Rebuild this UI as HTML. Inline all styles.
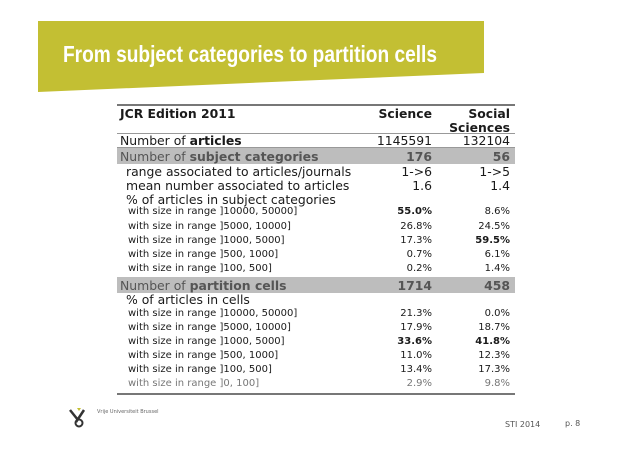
<!DOCTYPE html>
<html><head><meta charset="utf-8"><style>
body{margin:0;width:638px;height:451px;background:#fff;position:relative;overflow:hidden;font-family:"DejaVu Sans","Liberation Sans",sans-serif;}
.r{position:absolute;left:0;width:638px;color:#1a1a1a;white-space:nowrap;}
.r span{position:absolute;}
.l{left:120px}.l2{left:126px}.l3{left:128px}
.a{right:206px;text-align:right}.b{right:128px;text-align:right}
.m{font-size:12.4px;line-height:15px}.s{font-size:10px;line-height:12px}
.band{position:absolute;left:117px;width:398px;background:#bdbdbd}
.hl{position:absolute;left:117px;width:398px;background:#777}
</style></head><body>
<svg style="position:absolute;left:0;top:0" width="638" height="100"><polygon points="38,21 484,21 484,73 38,92" fill="#c3bf33"/><text x="63" y="62" fill="#fff" font-family="Liberation Sans, sans-serif" font-weight="bold" font-size="23" textLength="374" lengthAdjust="spacingAndGlyphs">From subject categories to partition cells</text></svg>
<div class="hl" style="top:104px;height:2px"></div>
<div class="hl" style="top:133px;height:1px;background:#999"></div>
<div class="hl" style="top:147px;height:1px;background:#999"></div>
<div class="band" style="top:148px;height:16px"></div>
<div class="band" style="top:277px;height:16px"></div>
<div class="hl" style="top:393px;height:2px"></div>

<div class="r m" style="top:106px;font-weight:bold"><span class="l">JCR Edition 2011</span><span class="a">Science</span><span class="b">Social</span></div>
<div class="r m" style="top:120px;font-weight:bold"><span class="b">Sciences</span></div>
<div class="r m" style="top:133px"><span class="l">Number of <b>articles</b></span><span class="a">1145591</span><span class="b">132104</span></div>
<div class="r m" style="top:149px;color:#555"><span class="l">Number of <b>subject categories</b></span><span class="a"><b>176</b></span><span class="b"><b>56</b></span></div>
<div class="r m" style="top:164px"><span class="l2">range associated to articles/journals</span><span class="a">1-&gt;6</span><span class="b">1-&gt;5</span></div>
<div class="r m" style="top:178px"><span class="l2">mean number associated to articles</span><span class="a">1.6</span><span class="b">1.4</span></div>
<div class="r m" style="top:192px"><span class="l2">% of articles in subject categories</span></div>
<div class="r s" style="top:206px"><span class="l3">with size in range ]10000, 50000]</span><span class="a"><b>55.0%</b></span><span class="b">8.6%</span></div>
<div class="r s" style="top:221px"><span class="l3">with size in range ]5000, 10000]</span><span class="a">26.8%</span><span class="b">24.5%</span></div>
<div class="r s" style="top:235px"><span class="l3">with size in range ]1000, 5000]</span><span class="a">17.3%</span><span class="b"><b>59.5%</b></span></div>
<div class="r s" style="top:249px"><span class="l3">with size in range ]500, 1000]</span><span class="a">0.7%</span><span class="b">6.1%</span></div>
<div class="r s" style="top:263px"><span class="l3">with size in range ]100, 500]</span><span class="a">0.2%</span><span class="b">1.4%</span></div>
<div class="r m" style="top:278px;color:#555"><span class="l">Number of <b>partition cells</b></span><span class="a"><b>1714</b></span><span class="b"><b>458</b></span></div>
<div class="r m" style="top:292px"><span class="l2">% of articles in cells</span></div>
<div class="r s" style="top:308px"><span class="l3">with size in range ]10000, 50000]</span><span class="a">21.3%</span><span class="b">0.0%</span></div>
<div class="r s" style="top:322px"><span class="l3">with size in range ]5000, 10000]</span><span class="a">17.9%</span><span class="b">18.7%</span></div>
<div class="r s" style="top:336px"><span class="l3">with size in range ]1000, 5000]</span><span class="a"><b>33.6%</b></span><span class="b"><b>41.8%</b></span></div>
<div class="r s" style="top:350px"><span class="l3">with size in range ]500, 1000]</span><span class="a">11.0%</span><span class="b">12.3%</span></div>
<div class="r s" style="top:364px"><span class="l3">with size in range ]100, 500]</span><span class="a">13.4%</span><span class="b">17.3%</span></div>
<div class="r s" style="top:378px;color:#777"><span class="l3">with size in range ]0, 100]</span><span class="a">2.9%</span><span class="b">9.8%</span></div>

<svg style="position:absolute;left:68px;top:408px" width="20" height="20"><polygon points="9,0 13,0 11,3" fill="#c3bf33"/><path d="M2,2 L10,12 M16,2 L8,14" stroke="#333" stroke-width="2.5" fill="none"/><circle cx="11" cy="15" r="3.5" stroke="#333" stroke-width="2" fill="none"/></svg>
<div style="position:absolute;left:97px;top:409px;font-size:5px;color:#666">Vrije Universiteit Brussel</div>
<div style="position:absolute;left:505px;top:420px;font-size:8px;color:#555">STI 2014</div>
<div style="position:absolute;left:565px;top:419px;font-size:8px;color:#555">p. 8</div>
</body></html>
